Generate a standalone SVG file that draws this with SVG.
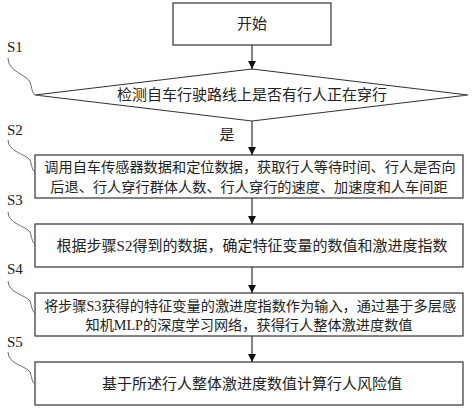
<svg xmlns="http://www.w3.org/2000/svg" width="474" height="410" viewBox="0 0 474 410">
<style>
.box{fill:#fff;stroke:#333;stroke-width:1.2}
.t{font-family:"Liberation Serif","Noto Sans CJK SC",serif;font-size:15px;fill:#222;text-anchor:middle;dominant-baseline:central}
.s{font-size:14.2px}
.lbl{font-family:"Liberation Serif",serif;font-size:15px;fill:#222}
.ln{fill:none;stroke:#333;stroke-width:1.2}
.crv{fill:none;stroke:#444;stroke-width:0.8}
</style>
<defs>
<marker id="ah" viewBox="0 0 10 10" refX="10" refY="5" markerWidth="8" markerHeight="9" markerUnits="userSpaceOnUse" orient="auto">
<path d="M0,0 L10,5 L0,10 Z" fill="#111"/>
</marker>
</defs>
<g id="start"><rect class="box" x="173" y="3" width="158" height="42"/><text class="t" x="252" y="24">开始</text></g>
<g id="s1"><polygon class="box" points="252,69 468,95 252,121 35,95"/><text class="t" x="252" y="95">检测自车行驶路线上是否有行人正在穿行</text></g>
<g id="s2"><rect class="box" x="35" y="155" width="428" height="43"/><text class="t s" x="250" y="167">调用自车传感器数据和定位数据，获取行人等待时间、行人是否向</text><text class="t s" x="249" y="187">后退、行人穿行群体人数、行人穿行的速度、加速度和人车间距</text></g>
<g id="s3"><rect class="box" x="35" y="224" width="428" height="43"/><text class="t" x="252" y="246">根据步骤S2得到的数据，确定特征变量的数值和激进度指数</text></g>
<g id="s4"><rect class="box" x="35" y="293" width="428" height="43"/><text class="t s" x="250" y="306">将步骤S3获得的特征变量的激进度指数作为输入，通过基于多层感</text><text class="t s" x="249" y="325">知机MLP的深度学习网络，获得行人整体激进度数值</text></g>
<g id="s5"><rect class="box" x="35" y="362" width="428" height="43"/><text class="t" x="252" y="384">基于所述行人整体激进度数值计算行人风险值</text></g>
<g id="labels">
<text class="lbl" x="7" y="52">S1</text>
<text class="lbl" x="7" y="135">S2</text>
<text class="lbl" x="7" y="205">S3</text>
<text class="lbl" x="7" y="274">S4</text>
<text class="lbl" x="7" y="347">S5</text>
</g>
<g id="connectors">
<line class="ln" x1="252" y1="45" x2="252" y2="69" marker-end="url(#ah)"/>
<line class="ln" x1="252" y1="121" x2="252" y2="155" marker-end="url(#ah)"/>
<text class="t" x="227" y="135">是</text>
<line class="ln" x1="252" y1="198" x2="252" y2="224" marker-end="url(#ah)"/>
<line class="ln" x1="252" y1="267" x2="252" y2="293" marker-end="url(#ah)"/>
<line class="ln" x1="252" y1="336" x2="252" y2="362" marker-end="url(#ah)"/>
<path class="crv" d="M8,58 C8,72 26,74 30,82 C32,88 32,93 35,95"/>
<path class="crv" d="M8,140 C8,152 26,154 30,160 C32,166 32,170 35,172"/>
<path class="crv" d="M8,212 C8,224 26,226 30,232 C32,238 32,242 35,244"/>
<path class="crv" d="M8,281 C8,293 26,295 30,301 C32,307 32,311 35,313"/>
<path class="crv" d="M8,352 C8,364 26,366 30,372 C32,378 32,382 35,384"/>
</g>
</svg>
